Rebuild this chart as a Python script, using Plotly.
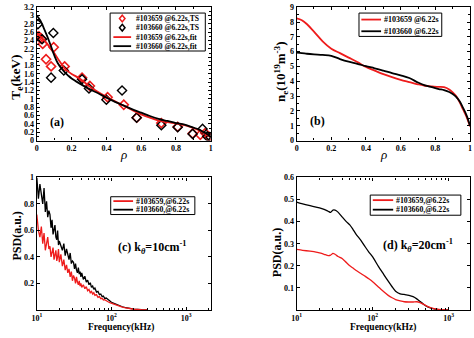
import plotly.graph_objects as go

# ---------------- (a) electron temperature profiles ----------------
rho_ts_59 = [0.0, 0.012, 0.025, 0.034, 0.053, 0.082, 0.097, 0.16, 0.26, 0.305,
             0.407, 0.5, 0.575, 0.716, 0.81, 0.896, 0.94, 0.968, 0.99]
te_ts_59 = [2.5, 2.5, 2.45, 2.32, 1.95, 1.78, 2.24, 1.78, 1.51, 1.31,
            1.04, 0.86, 0.55, 0.42, 0.33, 0.17, 0.14, 0.18, 0.09]
rho_ts_60 = [0.006, 0.03, 0.082, 0.095, 0.155, 0.26, 0.3, 0.4, 0.49, 0.574,
             0.716, 0.81, 0.896, 0.953, 0.98, 1.0]
te_ts_60 = [2.79, 2.43, 1.51, 2.58, 1.68, 1.47, 1.25, 0.98, 1.2, 0.55,
            0.37, 0.32, 0.16, 0.28, 0.1, 0.08]

rho_fit = [0, 0.02, 0.04, 0.06, 0.08, 0.1, 0.12, 0.14, 0.16, 0.18, 0.2, 0.25,
           0.3, 0.35, 0.4, 0.45, 0.5, 0.55, 0.6, 0.65, 0.7, 0.75, 0.8, 0.85,
           0.9, 0.93, 0.96, 0.98, 1.0]
te_fit_59 = [2.54, 2.5, 2.42, 2.32, 2.2, 2.1, 1.97, 1.85, 1.74, 1.66, 1.6, 1.48,
             1.31, 1.17, 1.05, 0.94, 0.84, 0.73, 0.63, 0.55, 0.48, 0.44, 0.41,
             0.37, 0.3, 0.25, 0.18, 0.13, 0.08]
te_fit_60 = [3.0, 2.88, 2.7, 2.5, 2.28, 2.05, 1.86, 1.74, 1.64, 1.56, 1.49, 1.36,
             1.24, 1.14, 1.03, 0.93, 0.84, 0.75, 0.67, 0.59, 0.52, 0.47, 0.42,
             0.38, 0.31, 0.27, 0.2, 0.15, 0.08]

# ---------------- (b) electron density profiles ----------------
rho_ne = [0, 0.03, 0.06, 0.1, 0.15, 0.2, 0.25, 0.3, 0.35, 0.4, 0.45, 0.5, 0.55,
          0.6, 0.65, 0.7, 0.74, 0.78, 0.82, 0.85, 0.88, 0.9, 0.92, 0.94, 0.96,
          0.98, 1.0]
ne_59 = [8.24, 8.12, 7.85, 7.35, 6.7, 6.2, 5.9, 5.6, 5.3, 4.97, 4.72, 4.48, 4.28,
         4.1, 3.95, 3.8, 3.7, 3.65, 3.62, 3.6, 3.45, 3.25, 3.0, 2.6, 2.1, 1.6, 0.95]
ne_60 = [5.93, 5.9, 5.86, 5.82, 5.78, 5.72, 5.5, 5.32, 5.18, 5.02, 4.88, 4.72,
         4.55, 4.4, 4.22, 3.92, 3.72, 3.6, 3.48, 3.4, 3.28, 3.15, 2.95, 2.65,
         2.2, 1.7, 1.0]

# ---------------- (c) PSD, k_theta = 10 cm^-1 ----------------
freq_c = [10, 10.5, 11, 11.5, 12, 12.5, 13, 13.5, 14, 14.5, 15, 15.5, 16, 16.5,
          17, 17.5, 18, 18.5, 19, 19.5, 20, 21, 22, 23, 24, 25, 26, 27, 28, 29,
          30, 31, 32, 33, 34, 35, 36, 37, 38, 39, 40, 42, 44, 46, 48, 50, 52, 54,
          56, 58, 60, 63, 66, 69, 72, 75, 78, 81, 85, 90, 95, 100, 110, 120, 130,
          140, 150, 170, 200, 250, 300]
psd_c_60 = [1.0, 0.84, 0.95, 0.86, 0.80, 0.92, 0.74, 0.82, 0.70, 0.75, 0.72,
            0.62, 0.68, 0.57, 0.60, 0.64, 0.55, 0.53, 0.60, 0.49, 0.52, 0.48,
            0.45, 0.50, 0.41, 0.46, 0.42, 0.38, 0.43, 0.35, 0.37, 0.36, 0.31,
            0.35, 0.30, 0.28, 0.32, 0.27, 0.29, 0.25, 0.28, 0.23, 0.255, 0.21,
            0.225, 0.19, 0.205, 0.17, 0.18, 0.155, 0.165, 0.135, 0.14, 0.115,
            0.12, 0.10, 0.105, 0.088, 0.09, 0.076, 0.068, 0.058, 0.048, 0.038,
            0.030, 0.024, 0.019, 0.012, 0.006, 0.002, 0.001]
psd_c_59 = [0.72, 0.60, 0.55, 0.63, 0.50, 0.58, 0.45, 0.52, 0.55, 0.46, 0.48,
            0.40, 0.44, 0.47, 0.38, 0.42, 0.45, 0.37, 0.40, 0.46, 0.36, 0.42,
            0.33, 0.38, 0.30, 0.34, 0.28, 0.31, 0.25, 0.29, 0.22, 0.26, 0.24,
            0.20, 0.25, 0.21, 0.19, 0.22, 0.18, 0.20, 0.17, 0.19, 0.16, 0.175,
            0.145, 0.155, 0.13, 0.14, 0.12, 0.13, 0.11, 0.115, 0.095, 0.10,
            0.085, 0.088, 0.075, 0.078, 0.068, 0.062, 0.055, 0.05, 0.042, 0.034,
            0.027, 0.022, 0.017, 0.011, 0.005, 0.002, 0.001]

# ---------------- (d) PSD, k_theta = 20 cm^-1 ----------------
freq_d = [10, 12, 15, 18, 20, 23, 26, 28, 30, 32, 35, 40, 45, 50, 55, 60, 70, 80,
          90, 100, 120, 140, 160, 180, 200, 230, 260, 300, 340, 380, 420, 470,
          530, 600, 700, 800, 1000]
psd_d_60 = [0.488, 0.48, 0.472, 0.466, 0.462, 0.455, 0.447, 0.442, 0.452, 0.452,
            0.443, 0.42, 0.40, 0.385, 0.365, 0.345, 0.315, 0.285, 0.26, 0.24,
            0.195, 0.16, 0.13, 0.105, 0.085, 0.073, 0.07, 0.066, 0.06, 0.05,
            0.038, 0.025, 0.014, 0.007, 0.002, 0.0005, 0.0]
psd_d_59 = [0.274, 0.27, 0.266, 0.262, 0.258, 0.252, 0.246, 0.248, 0.256, 0.252,
            0.242, 0.232, 0.215, 0.2, 0.19, 0.18, 0.165, 0.152, 0.14, 0.128,
            0.103, 0.082, 0.066, 0.055, 0.047, 0.041, 0.037, 0.036, 0.036,
            0.037, 0.033, 0.025, 0.015, 0.008, 0.003, 0.001, 0.0]

RED = "#ee1c1c"
BLACK = "#000000"
W, H = 474, 338
SERIF = "Liberation Serif"


def px(x):
    return x / W


def py(y):
    return 1 - y / H


fig = go.Figure()

# (a)
fig.add_trace(go.Scatter(x=rho_ts_59, y=te_ts_59, mode="markers", xaxis="x", yaxis="y",
                         marker=dict(symbol="diamond-open", size=7, color=RED,
                                     line=dict(width=1.6, color=RED))))
fig.add_trace(go.Scatter(x=rho_ts_60, y=te_ts_60, mode="markers", xaxis="x", yaxis="y",
                         marker=dict(symbol="diamond-open", size=7, color=BLACK,
                                     line=dict(width=1.4, color=BLACK))))
fig.add_trace(go.Scatter(x=rho_fit, y=te_fit_59, mode="lines", xaxis="x", yaxis="y",
                         line=dict(color=RED, width=1.8, shape="spline")))
fig.add_trace(go.Scatter(x=rho_fit, y=te_fit_60, mode="lines", xaxis="x", yaxis="y",
                         line=dict(color=BLACK, width=1.8, shape="spline")))
# (b)
fig.add_trace(go.Scatter(x=rho_ne, y=ne_59, mode="lines", xaxis="x2", yaxis="y2",
                         line=dict(color=RED, width=1.8, shape="spline")))
fig.add_trace(go.Scatter(x=rho_ne, y=ne_60, mode="lines", xaxis="x2", yaxis="y2",
                         line=dict(color=BLACK, width=1.8, shape="spline")))
# (c)
fig.add_trace(go.Scatter(x=freq_c, y=psd_c_60, mode="lines", xaxis="x3", yaxis="y3",
                         line=dict(color=BLACK, width=1.3)))
fig.add_trace(go.Scatter(x=freq_c, y=psd_c_59, mode="lines", xaxis="x3", yaxis="y3",
                         line=dict(color=RED, width=1.3)))
# (d)
fig.add_trace(go.Scatter(x=freq_d, y=psd_d_60, mode="lines", xaxis="x4", yaxis="y4",
                         line=dict(color=BLACK, width=1.3, shape="spline", smoothing=0.6)))
fig.add_trace(go.Scatter(x=freq_d, y=psd_d_59, mode="lines", xaxis="x4", yaxis="y4",
                         line=dict(color=RED, width=1.3, shape="spline", smoothing=0.6)))

tickfont = dict(family=SERIF, size=8, color="black", weight="bold")


def axis(**kw):
    base = dict(showline=True, linecolor="black", linewidth=1.2, mirror="ticks",
                ticks="inside", ticklen=3, tickwidth=1, tickcolor="black",
                showgrid=False, zeroline=False, tickfont=tickfont,
                fixedrange=True)
    base.update(kw)
    return base


def lin_labels(vals):
    return ["%g" % v for v in vals]


xa_left = [32.3 / W, 208.8 / W]
xa_right = [296 / W, 472 / W]
ya_top = [py(140.3), py(3.3)]
ya_bot = [py(314.3), py(178.2)]

rho_ticks = [0, 0.2, 0.4, 0.6, 0.8, 1]
te_ticks = [round(0.2 * i, 1) for i in range(17)]
ne_ticks = list(range(10))
log_major = [10, 100, 1000]
log_text = ["10<sup>1</sup>", "10<sup>2</sup>", "10<sup>3</sup>"]
log_minor = [m * d for d in (10, 100, 1000) for m in range(2, 10)]

fig.update_layout(
    width=W, height=H, margin=dict(l=0, r=0, t=0, b=0),
    paper_bgcolor="white", plot_bgcolor="white", showlegend=False,
    xaxis=axis(domain=xa_left, anchor="y", range=[0, 1], tickvals=rho_ticks,
               ticktext=lin_labels(rho_ticks),
               minor=dict(dtick=0.1, ticks="inside", ticklen=2, tickcolor="black")),
    yaxis=axis(domain=ya_top, anchor="x", range=[0, 3.2], tickvals=te_ticks,
               ticktext=lin_labels(te_ticks),
               minor=dict(dtick=0.1, ticks="inside", ticklen=2, tickcolor="black")),
    xaxis2=axis(domain=xa_right, anchor="y2", range=[0, 1], tickvals=rho_ticks,
                ticktext=lin_labels(rho_ticks),
                minor=dict(dtick=0.1, ticks="inside", ticklen=2, tickcolor="black")),
    yaxis2=axis(domain=ya_top, anchor="x2", range=[0, 9], tickvals=ne_ticks,
                ticktext=lin_labels(ne_ticks),
                minor=dict(dtick=0.5, ticks="inside", ticklen=2, tickcolor="black")),
    xaxis3=axis(domain=xa_left, anchor="y3", type="log", range=[1, 3.33],
                tickvals=log_major, ticktext=log_text,
                minor=dict(tickmode="array", tickvals=log_minor, ticks="inside",
                           ticklen=2, tickcolor="black")),
    yaxis3=axis(domain=ya_bot, anchor="x3", range=[0, 1],
                tickvals=[0.2, 0.4, 0.6, 0.8, 1], ticktext=["0.2", "0.4", "0.6", "0.8", "1"]),
    xaxis4=axis(domain=xa_right, anchor="y4", type="log", range=[1, 3.28],
                tickvals=log_major, ticktext=log_text,
                minor=dict(tickmode="array", tickvals=log_minor, ticks="inside",
                           ticklen=2, tickcolor="black")),
    yaxis4=axis(domain=ya_bot, anchor="x4", range=[0, 0.6],
                tickvals=[0.1, 0.2, 0.3, 0.4, 0.5, 0.6],
                ticktext=["0.1", "0.2", "0.3", "0.4", "0.5", "0.6"]),
)

shapes = []
annotations = []


def text(x, y, s, size, angle=0, xanchor="center", italic=False, bold=True):
    f = dict(family=SERIF, size=size, color="black")
    if bold:
        f["weight"] = "bold"
    if italic:
        f["style"] = "italic"
    annotations.append(dict(x=px(x), y=py(y), xref="paper", yref="paper", text=s,
                            showarrow=False, textangle=angle, xanchor=xanchor,
                            yanchor="middle", font=f))


def legend(box, rows, sym_x, text_x, size=7.6):
    x0, y0, x1, y1 = box
    shapes.append(dict(type="rect", xref="paper", yref="paper", x0=px(x0), x1=px(x1),
                       y0=py(y1), y1=py(y0), line=dict(color="black", width=1),
                       fillcolor="white", layer="above"))
    for yy, kind, color, label in rows:
        if kind == "line":
            shapes.append(dict(type="line", xref="paper", yref="paper",
                               x0=px(sym_x[0]), x1=px(sym_x[1]), y0=py(yy), y1=py(yy),
                               line=dict(color=color, width=1.8), layer="above"))
        else:
            cx = (sym_x[0] + sym_x[1]) / 2
            r = 2.8
            path = "M %f,%f L %f,%f L %f,%f L %f,%f Z" % (
                px(cx), py(yy - r - 0.6), px(cx + r), py(yy), px(cx), py(yy + r + 0.6),
                px(cx - r), py(yy))
            shapes.append(dict(type="path", xref="paper", yref="paper", path=path,
                               line=dict(color=color, width=1.5), layer="above"))
        text(text_x, yy, label, size, xanchor="left")


legend((106.7, 9.3, 203.3, 48.3),
       [(15.0, "marker", RED, "#103659 @6.22s,TS"),
        (24.3, "marker", BLACK, "#103660 @6.22s,TS"),
        (34.0, "line", RED, "#103659 @6.22s,fit"),
        (43.3, "line", BLACK, "#103660 @6.22s,fit")],
       (110, 128), 130.5)
legend((359.3, 9.3, 443.3, 33.3),
       [(16.0, "line", RED, "#103659 @6.22s"),
        (28.0, "line", BLACK, "#103660 @6.22s")],
       (361.7, 381.7), 382.5, size=8)
legend((107.3, 198.0, 192.7, 216.3),
       [(202.5, "line", RED, "#103659,@6.22s"),
        (211.3, "line", BLACK, "#103660,@6.22s")],
       (110, 130), 131, size=7.8)
legend((370.7, 196.3, 462.7, 217.0),
       [(201.5, "line", RED, "#103659,@6.22s"),
        (211.3, "line", BLACK, "#103660,@6.22s")],
       (373.3, 394), 394.5, size=7.8)

# panel labels
text(52.7, 121.7, "(a)", 12)
text(317.3, 120.7, "(b)", 12)
text(150, 249.7, "(c) k<sub><i>θ</i></sub>=10cm<sup>-1</sup>", 12)
text(419, 248, "(d) k<sub><i>θ</i></sub>=20cm<sup>-1</sup>", 12)

# axis titles
text(11, 75, "T<sub>e</sub>(keV)", 13.5, angle=-90)
text(280, 70, "n<sub>e</sub>(10<sup>19</sup>m<sup>-3</sup>)", 13, angle=-90)
text(12, 238, "PSD(a.u.)", 12, angle=-90)
text(276, 255, "PSD(a.u.)", 12, angle=-90)
text(120, 155, "ρ", 13, italic=True, bold=False)
text(384, 155, "ρ", 13, italic=True, bold=False)
text(118, 332, "Frequency(kHz)", 9.5)
text(384, 332, "Frequency(kHz)", 9.5)

fig.update_layout(shapes=shapes, annotations=annotations)
fig.write_html("out.html")
